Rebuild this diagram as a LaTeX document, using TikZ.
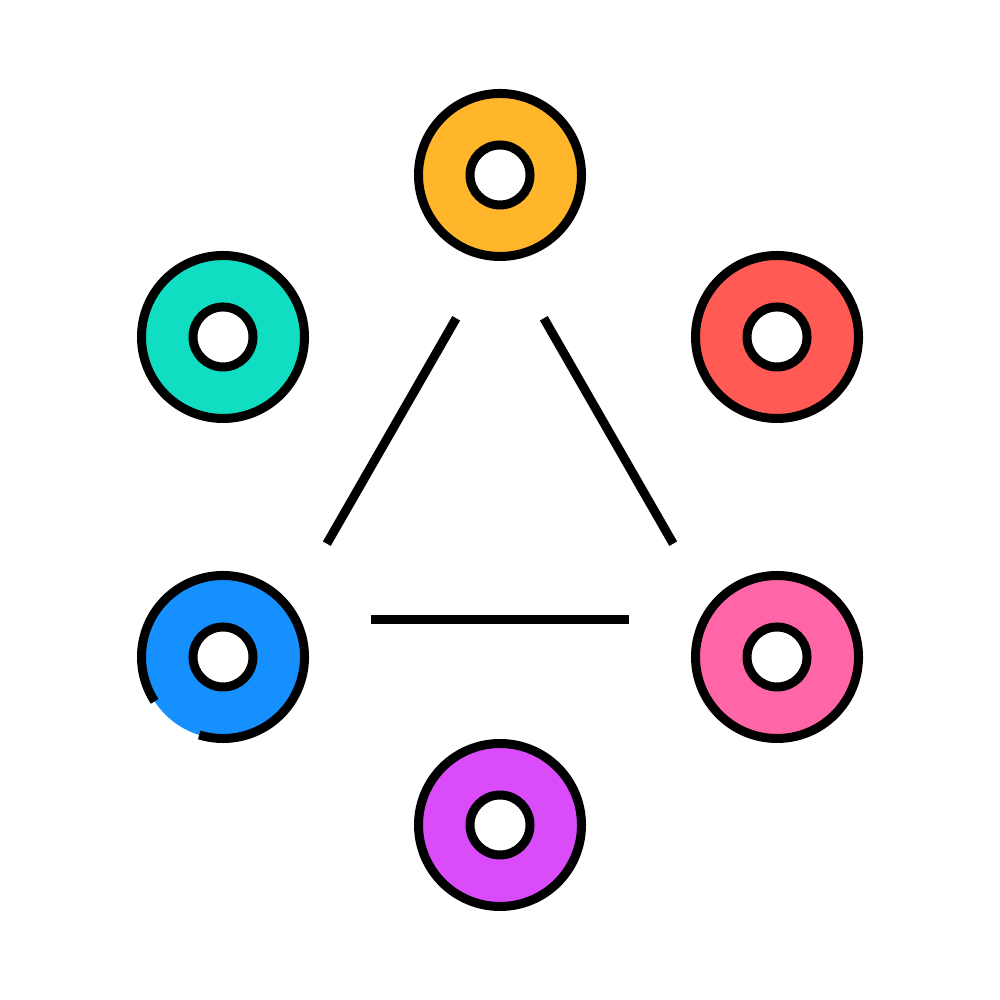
\documentclass[tikz,border=0pt]{standalone}
\usepackage{xcolor}
\definecolor{orangering}{RGB}{255,182,43}
\definecolor{greenring}{RGB}{16,221,194}
\definecolor{redring}{RGB}{255,90,84}
\definecolor{bluering}{RGB}{22,144,255}
\definecolor{pinkring}{RGB}{255,102,168}
\definecolor{purplering}{RGB}{218,75,250}
\tikzstyle{ring}=[circle, minimum size=1.63cm, draw, line width=0.09cm]
\tikzstyle{hole}=[circle, minimum size=0.6cm, draw, fill=white, line width=0.09cm]
\tikzstyle{side}=[line width=0.09cm, shorten >=0.88cm, shorten <=0.88cm]

\begin{document}
\begin{tikzpicture}
  \useasboundingbox (0,0) rectangle (10,10);
  %% Rings
  \draw (5,8.25) node[ring, fill=orangering] (R1) {};
  \draw (2.23,6.63) node[ring, fill=greenring] (R2) {};
  \draw (7.77,6.63) node[ring, fill=redring] (R3) {};
  \draw (2.23,3.43) node[ring, draw=none, fill=bluering] (R4) {};
  \draw (7.77,3.43) node[ring, fill=pinkring] (R5) {};
  \draw (5,1.75) node[ring, fill=purplering] (R6) {};

  %% broken outline of the blue one
  \draw[line width=0.09cm] (R4.center) ++(253:0.815) arc (253:573:0.815);

  \draw (R1.center) node[hole] (H1) {};
  \draw (R2.center) node[hole] (H2) {};
  \draw (R3.center) node[hole] (H3) {};
  \draw (R4.center) node[hole] (H4) {};
  \draw (R5.center) node[hole] (H5) {};
  \draw (R6.center) node[hole] (H6) {};

  %% Triangle
  \coordinate (T1) at (5,7.58);
  \coordinate (T2) at (2.83,3.8);
  \coordinate (T3) at (7.17,3.8);
  \draw[side] (T1) -- (T2);
  \draw[side] (T1) -- (T3);
  \draw[side] (T2) -- (T3);
\end{tikzpicture}
\end{document}
